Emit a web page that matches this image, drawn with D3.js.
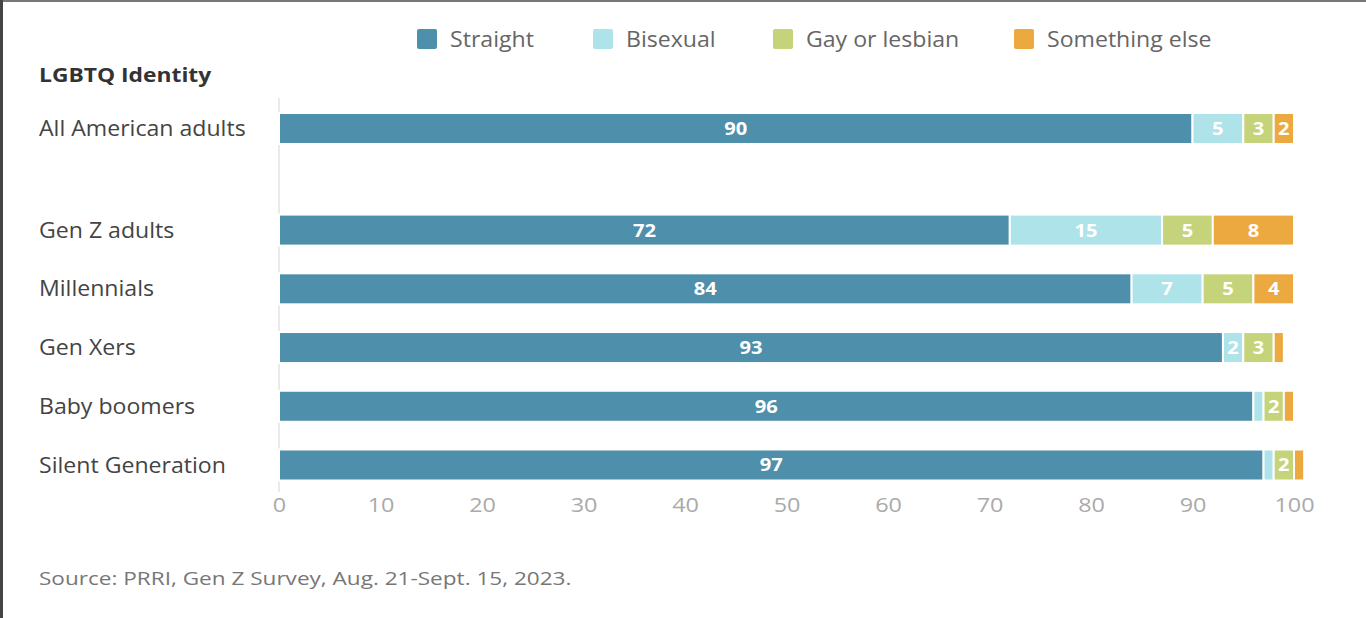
<!DOCTYPE html>
<html>
<head>
<meta charset="utf-8">
<script src="https://cdn.jsdelivr.net/npm/d3@7"></script>
<style>
  body { margin: 0; background: #fff; font-family: "Open Sans", sans-serif; }
  #chart-container { width: 1366px; height: 618px; }
</style>
</head>
<body>
<div id="chart-container"></div>
<script>
// categories and series
const groups = ["All American adults", "Gen Z adults", "Millennials", "Gen Xers", "Baby boomers", "Silent Generation"];
const seriesNames = ["Straight", "Bisexual", "Gay or lesbian", "Something else"];
const straight = [90, 72, 84, 93, 96, 97];
const bisexual = [5, 15, 7, 2, 1, 1];
const gayLesbian = [3, 5, 5, 3, 2, 2];
const somethingElse = [2, 8, 4, 1, 1, 1];
// value labels shown on segments (blank where the segment is too thin)
const straightLabels = ["90", "72", "84", "93", "96", "97"];
const bisexualLabels = ["5", "15", "7", "2", "", ""];
const gayLabels = ["3", "5", "5", "3", "2", "2"];
const elseLabels = ["2", "8", "4", "", "", ""];
const xTicks = [0, 10, 20, 30, 40, 50, 60, 70, 80, 90, 100];

const colors = ["#4e8fab", "#aee3ea", "#c5d47a", "#eba93f"];

const W = 1366, H = 618;
const svg = d3.select("#chart-container")
    .append("svg")
        .attr("width", W)
        .attr("height", H);

// the original text is a bit wider than Open Sans, stretch it horizontally
function stretch(sel, sx) {
    sel.each(function() {
        const t = d3.select(this);
        const x = +t.attr("x") || 0, y = +t.attr("y") || 0;
        t.attr("x", 0).attr("y", 0)
         .attr("transform", `translate(${x},${y}) scale(${sx},1)`);
    });
}

// frame lines at top and left
svg.append("rect").attr("x", 0).attr("y", 0).attr("width", W).attr("height", 2).attr("fill", "#777");
svg.append("rect").attr("x", 0).attr("y", 0).attr("width", 3).attr("height", H).attr("fill", "#444");

// x scale
const xScale = d3.scaleLinear().domain([0, 100]).range([279, 1294]);

// row positions: first row sits apart from the generations
const rowPos = groups.map((g, i) => i === 0 ? 0 : i + 0.73);
const yScale = d3.scaleLinear().domain([0, 5.73]).range([128.5, 465]);
const barH = 31;

// build stacked data
const table = groups.map((g, i) => ({
    group: g,
    pos: rowPos[i],
    "Straight": straight[i],
    "Bisexual": bisexual[i],
    "Gay or lesbian": gayLesbian[i],
    "Something else": somethingElse[i]
}));
const labels = [straightLabels, bisexualLabels, gayLabels, elseLabels];
const stacked = d3.stack().keys(seriesNames)(table);

// vertical baseline
svg.append("line")
    .attr("x1", xScale(0)).attr("x2", xScale(0))
    .attr("y1", 98).attr("y2", 492)
    .attr("stroke", "#e3e3e3").attr("stroke-width", 1.5);

// bars
stacked.forEach((layer, k) => {
    const g = svg.append("g");
    g.selectAll("rect")
        .data(layer)
        .join("rect")
            .attr("x", d => xScale(d[0]))
            .attr("y", d => yScale(d.data.pos) - barH / 2)
            .attr("width", d => xScale(d[1]) - xScale(d[0]))
            .attr("height", barH)
            .attr("fill", colors[k])
            .attr("stroke", "#fff")
            .attr("stroke-width", 2);
    g.selectAll("text")
        .data(layer)
        .join("text")
            .attr("x", d => (xScale(d[0]) + xScale(d[1])) / 2)
            .attr("y", d => yScale(d.data.pos))
            .attr("dy", "0.36em")
            .attr("text-anchor", "middle")
            .attr("fill", "#fff")
            .attr("font-size", 18)
            .attr("font-weight", 700)
            .text((d, i) => labels[k][i])
            .call(stretch, 1.12);
});

// category labels
svg.append("g").selectAll("text")
    .data(table)
    .join("text")
        .attr("x", 39)
        .attr("y", d => yScale(d.pos))
        .attr("dy", "0.36em")
        .attr("fill", "#444")
        .attr("font-size", 21)
        .text(d => d.group)
        .call(stretch, 1.1);

// x axis
const xAxis = d3.axisBottom(xScale).tickValues(xTicks).tickSize(0).tickPadding(0);
const ax = svg.append("g")
    .attr("transform", "translate(0, 498)")
    .call(xAxis);
ax.select(".domain").remove();
ax.selectAll("text")
    .attr("fill", "#aaa")
    .attr("font-size", 19.5)
    .attr("font-family", "Open Sans, sans-serif")
    .attr("dy", "0.71em")
    .call(stretch, 1.2);

// title
svg.append("text")
    .attr("x", 39).attr("y", 82)
    .attr("font-size", 19.5)
    .attr("font-weight", 700)
    .attr("fill", "#333")
    .text("LGBTQ Identity")
    .call(stretch, 1.17);

// legend
const legendX = [417, 593, 773, 1014];
const legend = svg.append("g");
seriesNames.forEach((s, i) => {
    legend.append("rect")
        .attr("x", legendX[i]).attr("y", 29)
        .attr("width", 20).attr("height", 20)
        .attr("rx", 2)
        .attr("fill", colors[i]);
    legend.append("text")
        .attr("x", legendX[i] + 33).attr("y", 39)
        .attr("dy", "0.36em")
        .attr("font-size", 21)
        .attr("fill", "#666")
        .text(s)
        .call(stretch, 1.1);
});

// source
svg.append("text")
    .attr("x", 39).attr("y", 578)
    .attr("dy", "0.36em")
    .attr("font-size", 18.5)
    .attr("fill", "#777")
    .text("Source: PRRI, Gen Z Survey, Aug. 21-Sept. 15, 2023.")
    .call(stretch, 1.22);
</script>
</body>
</html>
